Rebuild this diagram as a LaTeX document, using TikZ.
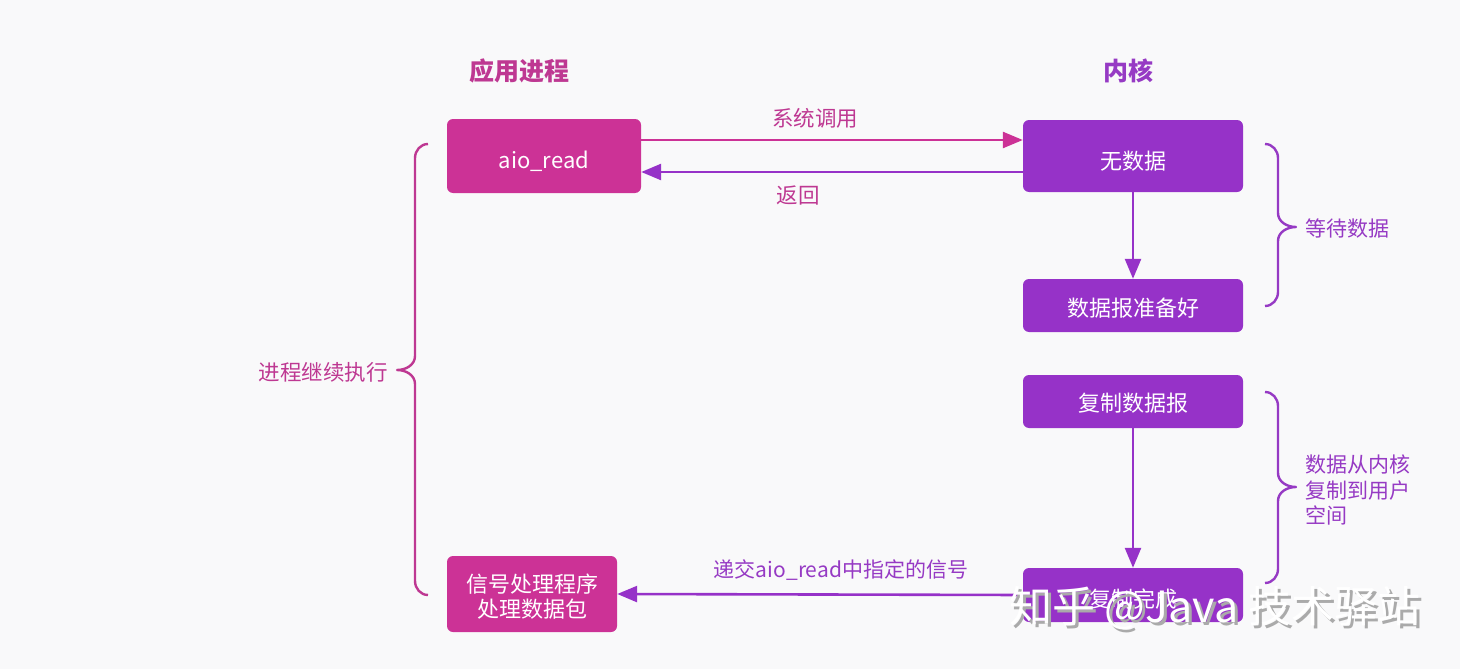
\documentclass[tikz,border=0pt]{standalone}
\usepackage{fontspec}
\setmainfont{Noto Sans CJK SC}
\usetikzlibrary{arrows.meta}
\definecolor{bg}{RGB}{249,249,250}
\definecolor{mag}{RGB}{204,50,150}
\definecolor{magtext}{RGB}{190,56,146}
\definecolor{pur}{RGB}{150,50,200}
\definecolor{purtext}{RGB}{150,58,196}
\definecolor{wmgray}{RGB}{170,170,170}
\newcommand{\lowtxt}[2]{\raisebox{-#1}[\height][\depth]{#2}}
\tikzset{
  magbox/.style={rectangle, rounded corners=6pt, fill=mag, text=white, inner sep=0pt,
    font=\fontsize{22}{25}\selectfont, align=center},
  purbox/.style={rectangle, rounded corners=6pt, fill=pur, text=white, inner sep=0pt,
    font=\fontsize{22}{26}\selectfont, minimum width=220pt},
  magarrow/.style={draw=mag, line width=2.6pt, -{Triangle[length=20pt,width=16pt]}},
  purarrow/.style={draw=pur, line width=2.6pt, -{Triangle[length=20pt,width=16pt]}},
  maglabel/.style={text=magtext, font=\fontsize{21.5}{25}\selectfont, inner sep=0pt},
  purlabel/.style={text=purtext, font=\fontsize{21}{25.5}\selectfont, inner sep=0pt},
  title/.style={font=\fontsize{25}{30}\selectfont\bfseries, inner sep=0pt},
  magbrace/.style={draw=magtext, line width=2.4pt, line join=round},
  purbrace/.style={draw=purtext, line width=2.4pt, line join=round},
  wm/.style={font=\fontsize{43}{46}\selectfont, inner sep=0pt, anchor=west}
}
\begin{document}
\begin{tikzpicture}[x=1pt, y=-1pt]
\useasboundingbox (0,0) rectangle (1460,669);
\fill[bg] (0,0) rectangle (1460,669);

% titles
\node[title, text=magtext] (t1) at (519,71) {应用进程};
\node[title, text=purtext] (t2) at (1128,71) {内核};

% boxes
\node[magbox, minimum width=194pt, minimum height=74pt] (aio) at (544,156) {\lowtxt{5pt}{aio\_read}};
\node[magbox, minimum width=170pt, minimum height=76pt] (sig) at (532,594) {\lowtxt{3pt}{信号处理程序}\\\lowtxt{3pt}{处理数据包}};
\node[purbox, minimum height=72pt] (nodata) at (1133,156) {\lowtxt{5pt}{无数据}};
\node[purbox, minimum height=53pt] (ready) at (1133,305.5) {\lowtxt{3pt}{数据报准备好}};
\node[purbox, minimum height=53pt] (copy) at (1133,401.5) {\lowtxt{2pt}{复制数据报}};
\node[purbox, minimum height=54pt] (done) at (1133,595) {\lowtxt{4pt}{复制完成}};

% connectors
\draw[magarrow] ([yshift=16pt]aio.east) -- ([yshift=16pt]nodata.west);
\draw[purarrow] ([yshift=-16pt]nodata.west) -- ([yshift=-16pt]aio.east);
\draw[purarrow] (nodata.south) -- (ready.north);
\draw[purarrow] (copy.south) -- (done.north);
\draw[purarrow] (done.west) -- (sig.east);

% connector labels
\node[maglabel] (l1) at (815,118) {系统调用};
\node[maglabel] (l2) at (798,195) {返回};
\node[purlabel] (l3) at (841,570) {递交aio\_read中指定的信号};

% right braces
\draw[purbrace] (1265,144) to[out=0,in=90] (1278,158) -- (1278,213)
  to[out=-90,in=180] (1296,227) to[out=180,in=90] (1278,241) -- (1278,292)
  to[out=-90,in=0] (1265,306);
\node[purlabel, anchor=west] (b1) at (1305,228) {等待数据};

\draw[purbrace] (1265,392) to[out=0,in=90] (1278,406) -- (1278,473)
  to[out=-90,in=180] (1296,487) to[out=180,in=90] (1278,501) -- (1278,569)
  to[out=-90,in=0] (1265,583);
\node[purlabel, anchor=west, align=left] (b2) at (1305,490) {数据从内核\\复制到用户\\空间};

% left brace
\draw[magbrace] (428,144) to[out=180,in=90] (415,158) -- (415,356)
  to[out=-90,in=0] (397,370) to[out=0,in=90] (415,384) -- (415,581)
  to[out=-90,in=180] (428,595);
\node[maglabel, anchor=east] (b3) at (388,372) {进程继续执行};

% watermark
\node[wm, text=wmgray] (wms) at (1012,611) {知乎 @Java 技术驿站};
\node[wm, text=white] (wm) at (1009,608) {知乎 @Java 技术驿站};
\end{tikzpicture}
\end{document}
